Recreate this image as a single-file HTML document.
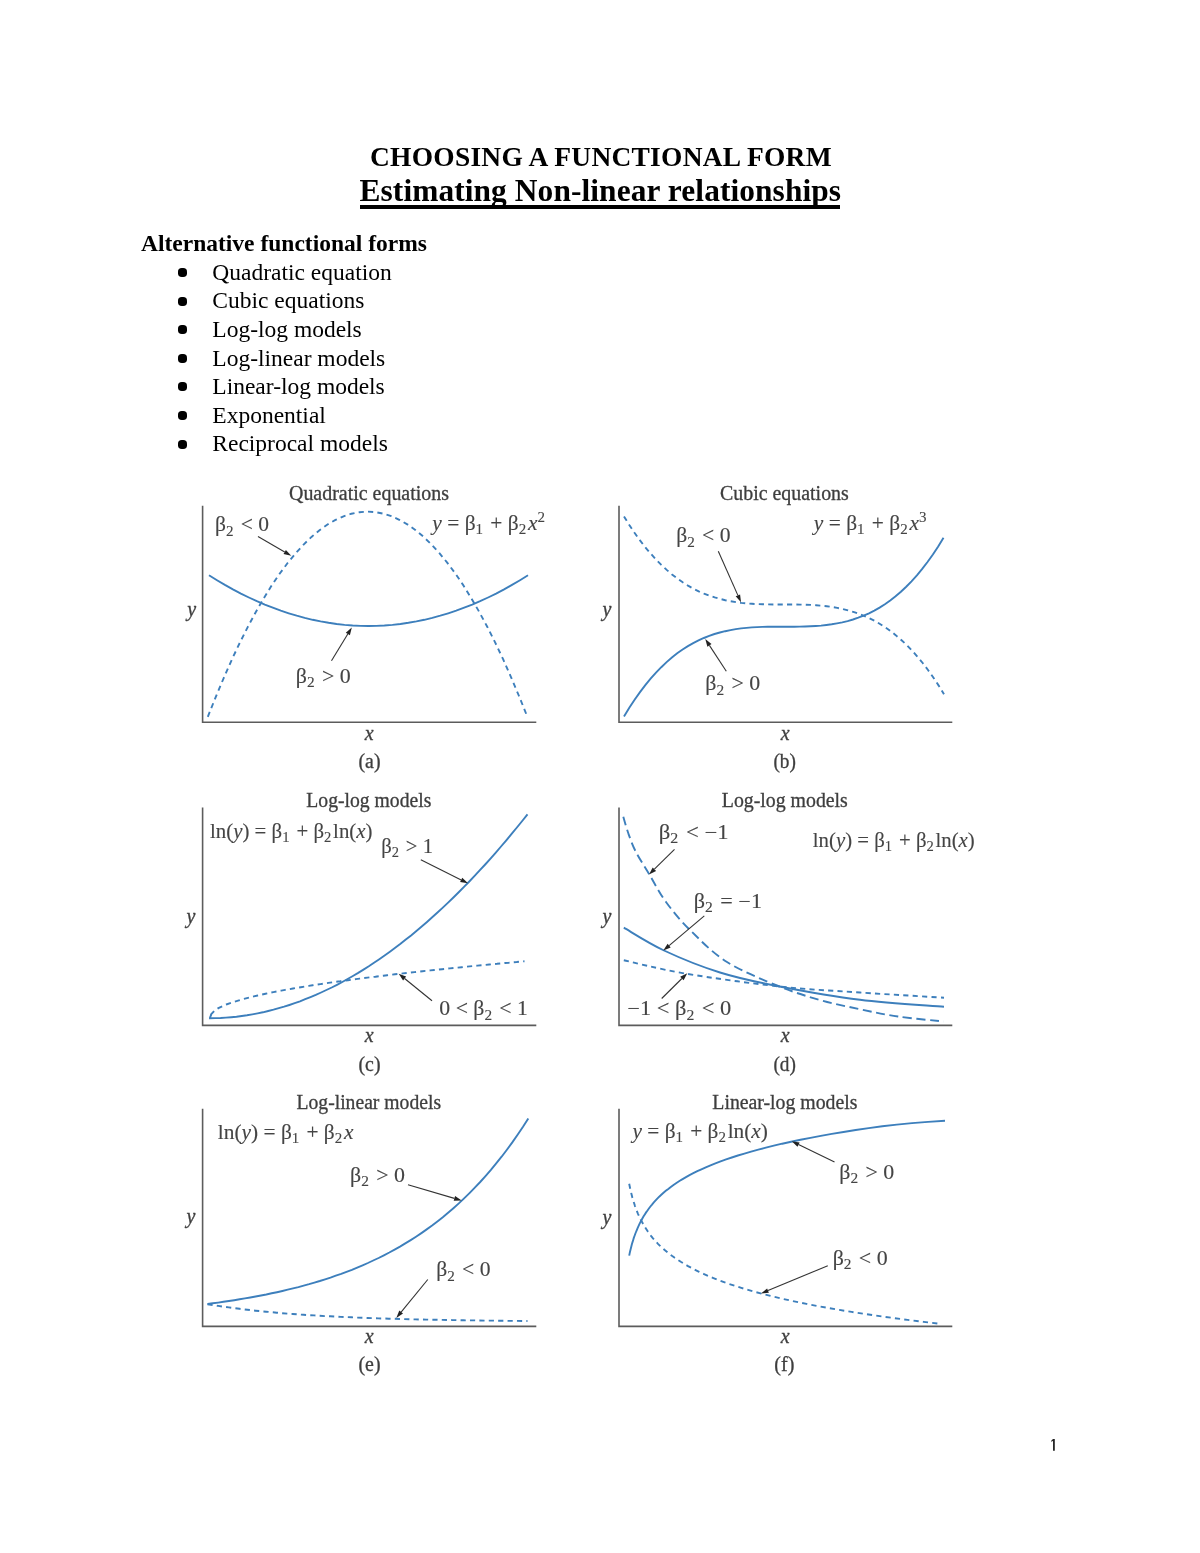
<!DOCTYPE html>
<html lang="en"><head><meta charset="utf-8"><title>Choosing a functional form</title>
<style>
html,body{margin:0;padding:0;background:#fff}
body{width:1200px;height:1553px;position:relative;overflow:hidden;font-family:"Liberation Serif",serif;color:#000}
.l{position:absolute;white-space:nowrap;line-height:1;margin:0}
.h1{font-weight:bold;font-size:27.45px;letter-spacing:.26px}
.h2{font-weight:bold;font-size:31.4px;letter-spacing:.09px}
.h3{font-weight:bold;font-size:23.5px}
.li{font-size:23.5px}
.bu{position:absolute;width:9px;height:9px;border-radius:42%;background:#000}
.ul{position:absolute;background:#000}
.pn{font-family:"Liberation Sans",sans-serif;font-size:20px;color:#222;clip-path:inset(0 4.1px 5.1px 3.4px)}
svg{position:absolute;left:0;top:0;filter:blur(.35px)}
svg text{font-family:"Liberation Serif",serif;font-size:20px;fill:#3d3d3d;stroke:#444;stroke-width:.32px}
svg .m{stroke-width:.12px;fill:#444}
svg .i{font-style:italic}
svg .s{font-size:14px}
</style></head><body>
<div class="l h1" id="h1" style="left:370px;top:143.8px">CHOOSING A FUNCTIONAL FORM</div>
<div class="l h2" id="h2" style="left:359.5px;top:175.0px">Estimating Non-linear relationships</div>
<div class="ul" style="left:360px;top:205px;width:480px;height:4px"></div>
<div class="l h3" id="h3" style="left:141px;top:231.8px">Alternative functional forms</div>
<div class="bu" style="left:177.7px;top:267.9px"></div>
<div class="l li" id="li0" style="left:212.3px;top:260.6px">Quadratic equation</div>
<div class="bu" style="left:177.7px;top:296.5px"></div>
<div class="l li" id="li1" style="left:212.3px;top:289.2px">Cubic equations</div>
<div class="bu" style="left:177.7px;top:325.2px"></div>
<div class="l li" id="li2" style="left:212.3px;top:317.9px">Log-log models</div>
<div class="bu" style="left:177.7px;top:353.8px"></div>
<div class="l li" id="li3" style="left:212.3px;top:346.5px">Log-linear models</div>
<div class="bu" style="left:177.7px;top:382.4px"></div>
<div class="l li" id="li4" style="left:212.3px;top:375.1px">Linear-log models</div>
<div class="bu" style="left:177.7px;top:411.1px"></div>
<div class="l li" id="li5" style="left:212.3px;top:403.8px">Exponential</div>
<div class="bu" style="left:177.7px;top:439.7px"></div>
<div class="l li" id="li6" style="left:212.3px;top:432.4px">Reciprocal models</div>
<div class="l pn" id="pn" style="left:1048px;top:1435.9px">1</div>
<svg width="1200" height="1553" viewBox="0 0 1200 1553">
<text class="t" x="369.0" y="500.3" text-anchor="middle" textLength="160.0" lengthAdjust="spacingAndGlyphs">Quadratic equations</text>
<path d="M202.6 505.8 V722.2 H536.3" fill="none" stroke="#5c5c5c" stroke-width="1.6"/>
<path d="M209.0 575.3 L217.0 580.2 L224.9 584.9 L232.9 589.4 L240.9 593.6 L248.9 597.5 L256.9 601.2 L264.8 604.6 L272.8 607.7 L280.8 610.7 L288.8 613.3 L296.7 615.7 L304.7 617.9 L312.7 619.8 L320.6 621.4 L328.6 622.8 L336.6 624.0 L344.6 624.9 L352.6 625.5 L360.5 625.9 L368.5 626.0 L376.5 625.9 L384.4 625.5 L392.4 624.9 L400.4 624.0 L408.4 622.8 L416.4 621.4 L424.3 619.8 L432.3 617.9 L440.3 615.7 L448.2 613.3 L456.2 610.7 L464.2 607.7 L472.2 604.6 L480.1 601.2 L488.1 597.5 L496.1 593.6 L504.1 589.4 L512.0 584.9 L520.0 580.2 L528.0 575.3" fill="none" stroke="#3d7fbc" stroke-width="1.90"/>
<path d="M207.8 716.8 L215.8 696.8 L223.8 677.8 L231.7 659.9 L239.7 643.0 L247.7 627.1 L255.7 612.2 L263.7 598.4 L271.6 585.6 L279.6 573.8 L287.6 563.0 L295.6 553.3 L303.6 544.6 L311.5 536.9 L319.5 530.2 L327.5 524.5 L335.5 519.9 L343.5 516.3 L351.4 513.7 L359.4 512.2 L367.4 511.6 L375.4 512.1 L383.4 513.7 L391.3 516.2 L399.3 519.8 L407.3 524.3 L415.3 529.9 L423.3 536.6 L431.2 544.2 L439.2 552.9 L447.2 562.6 L455.2 573.3 L463.2 585.1 L471.1 597.9 L479.1 611.7 L487.1 626.5 L495.1 642.3 L503.1 659.2 L511.0 677.1 L519.0 696.0 L527.0 715.9" fill="none" stroke="#3d7fbc" stroke-width="1.90" stroke-dasharray="5.2 4.2"/>
<text class="m" x="215.0" y="531.0" text-anchor="start" textLength="54.0" lengthAdjust="spacingAndGlyphs">β<tspan class="s" dy="4.5">2</tspan><tspan dy="-4.5">&#8202;</tspan> &lt; 0</text>
<text class="m" x="432.3" y="529.5" text-anchor="start" textLength="112.7" lengthAdjust="spacingAndGlyphs"><tspan class="i">y</tspan> = β<tspan class="s" dy="4.5">1</tspan><tspan dy="-4.5">&#8202;</tspan> + β<tspan class="s" dy="4.5">2</tspan><tspan dy="-4.5">&#8202;</tspan><tspan class="i">x</tspan><tspan class="s" dy="-7.5">2</tspan><tspan dy="7.5"></tspan></text>
<text class="m" x="295.8" y="682.5" text-anchor="start" textLength="55.0" lengthAdjust="spacingAndGlyphs">β<tspan class="s" dy="4.5">2</tspan><tspan dy="-4.5">&#8202;</tspan> &gt; 0</text>
<line x1="258.0" y1="536.5" x2="284.7" y2="552.0" stroke="#333" stroke-width="1.1"/><polygon points="291.3,555.8 283.5,554.1 285.9,549.9" fill="#222"/>
<line x1="331.5" y1="660.8" x2="347.8" y2="634.0" stroke="#333" stroke-width="1.1"/><polygon points="351.8,627.5 349.9,635.2 345.8,632.7" fill="#222"/>
<text class="t" x="369.2" y="739.5" text-anchor="middle"><tspan class="i">x</tspan></text>
<text class="t" x="369.5" y="767.7" text-anchor="middle" textLength="22.0" lengthAdjust="spacingAndGlyphs">(a)</text>
<text class="t" x="191.6" y="615.8" text-anchor="middle"><tspan class="i">y</tspan></text>
<text class="t" x="784.4" y="500.4" text-anchor="middle" textLength="128.8" lengthAdjust="spacingAndGlyphs">Cubic equations</text>
<path d="M619.0 505.8 V722.2 H952.3" fill="none" stroke="#5c5c5c" stroke-width="1.6"/>
<path d="M624.0 716.4 L629.3 707.7 L634.6 699.7 L640.0 692.1 L645.3 685.1 L650.6 678.7 L656.0 672.7 L661.3 667.2 L666.6 662.1 L671.9 657.5 L677.2 653.3 L682.6 649.5 L687.9 646.1 L693.2 643.1 L698.5 640.4 L703.9 638.0 L709.2 635.9 L714.5 634.0 L719.9 632.5 L725.2 631.2 L730.5 630.1 L735.8 629.1 L741.1 628.4 L746.5 627.9 L751.8 627.4 L757.1 627.1 L762.5 626.9 L767.8 626.8 L773.1 626.7 L778.4 626.7 L783.8 626.7 L789.1 626.7 L794.4 626.7 L799.7 626.6 L805.0 626.5 L810.4 626.3 L815.7 626.0 L821.0 625.6 L826.4 625.0 L831.7 624.3 L837.0 623.4 L842.3 622.4 L847.6 621.1 L853.0 619.5 L858.3 617.7 L863.6 615.6 L869.0 613.3 L874.3 610.6 L879.6 607.6 L884.9 604.2 L890.2 600.4 L895.6 596.3 L900.9 591.7 L906.2 586.7 L911.5 581.3 L916.9 575.3 L922.2 568.9 L927.5 562.0 L932.9 554.5 L938.2 546.4 L943.5 537.8" fill="none" stroke="#3d7fbc" stroke-width="1.90"/>
<path d="M624.0 516.4 L629.3 525.0 L634.7 533.0 L640.0 540.4 L645.3 547.3 L650.7 553.6 L656.0 559.5 L661.3 564.9 L666.7 569.9 L672.0 574.4 L677.3 578.5 L682.7 582.3 L688.0 585.6 L693.3 588.6 L698.7 591.3 L704.0 593.6 L709.3 595.6 L714.7 597.4 L720.0 598.9 L725.3 600.2 L730.7 601.3 L736.0 602.2 L741.3 602.9 L746.7 603.4 L752.0 603.8 L757.3 604.1 L762.7 604.3 L768.0 604.4 L773.3 604.5 L778.7 604.5 L784.0 604.5 L789.3 604.5 L794.7 604.5 L800.0 604.6 L805.3 604.7 L810.7 604.9 L816.0 605.2 L821.3 605.7 L826.7 606.2 L832.0 607.0 L837.3 607.9 L842.7 609.0 L848.0 610.3 L853.3 611.9 L858.7 613.7 L864.0 615.8 L869.3 618.2 L874.7 620.9 L880.0 624.0 L885.3 627.4 L890.7 631.2 L896.0 635.4 L901.3 640.0 L906.7 645.0 L912.0 650.5 L917.3 656.5 L922.7 663.0 L928.0 670.0 L933.3 677.5 L938.7 685.6 L944.0 694.2" fill="none" stroke="#3d7fbc" stroke-width="1.90" stroke-dasharray="5.2 4.2"/>
<text class="m" x="676.3" y="542.0" text-anchor="start" textLength="54.2" lengthAdjust="spacingAndGlyphs">β<tspan class="s" dy="4.5">2</tspan><tspan dy="-4.5">&#8202;</tspan> &lt; 0</text>
<text class="m" x="813.8" y="529.5" text-anchor="start" textLength="112.7" lengthAdjust="spacingAndGlyphs"><tspan class="i">y</tspan> = β<tspan class="s" dy="4.5">1</tspan><tspan dy="-4.5">&#8202;</tspan> + β<tspan class="s" dy="4.5">2</tspan><tspan dy="-4.5">&#8202;</tspan><tspan class="i">x</tspan><tspan class="s" dy="-7.5">3</tspan><tspan dy="7.5"></tspan></text>
<text class="m" x="705.3" y="690.0" text-anchor="start" textLength="55.0" lengthAdjust="spacingAndGlyphs">β<tspan class="s" dy="4.5">2</tspan><tspan dy="-4.5">&#8202;</tspan> &gt; 0</text>
<line x1="718.3" y1="551.2" x2="737.9" y2="595.4" stroke="#333" stroke-width="1.1"/><polygon points="741.0,602.3 735.7,596.3 740.1,594.4" fill="#222"/>
<line x1="726.3" y1="671.3" x2="709.4" y2="645.4" stroke="#333" stroke-width="1.1"/><polygon points="705.3,639.0 711.5,644.1 707.4,646.7" fill="#222"/>
<text class="t" x="785.2" y="739.5" text-anchor="middle"><tspan class="i">x</tspan></text>
<text class="t" x="784.7" y="767.7" text-anchor="middle" textLength="22.5" lengthAdjust="spacingAndGlyphs">(b)</text>
<text class="t" x="607.0" y="615.8" text-anchor="middle"><tspan class="i">y</tspan></text>
<text class="t" x="368.8" y="807.3" text-anchor="middle" textLength="125.0" lengthAdjust="spacingAndGlyphs">Log-log models</text>
<path d="M202.6 807.5 V1025.4 H536.3" fill="none" stroke="#5c5c5c" stroke-width="1.6"/>
<path d="M211.2 1014.6 L210 1017.6 L210.0 1018.2 L215.3 1018.1 L220.6 1018.0 L225.9 1017.6 L231.2 1017.2 L236.5 1016.7 L241.8 1016.0 L247.0 1015.3 L252.3 1014.4 L257.6 1013.4 L262.9 1012.3 L268.2 1011.0 L273.5 1009.7 L278.8 1008.2 L284.1 1006.7 L289.4 1005.0 L294.7 1003.2 L300.0 1001.3 L305.2 999.2 L310.5 997.1 L315.8 994.9 L321.1 992.5 L326.4 990.0 L331.7 987.5 L337.0 984.8 L342.3 982.0 L347.6 979.0 L352.9 976.0 L358.2 972.9 L363.5 969.6 L368.8 966.3 L374.0 962.8 L379.3 959.2 L384.6 955.5 L389.9 951.7 L395.2 947.8 L400.5 943.8 L405.8 939.6 L411.1 935.4 L416.4 931.0 L421.7 926.6 L427.0 922.0 L432.2 917.3 L437.5 912.5 L442.8 907.6 L448.1 902.6 L453.4 897.5 L458.7 892.3 L464.0 886.9 L469.3 881.5 L474.6 875.9 L479.9 870.2 L485.2 864.5 L490.5 858.6 L495.8 852.6 L501.0 846.5 L506.3 840.3 L511.6 833.9 L516.9 827.5 L522.2 821.0 L527.5 814.3" fill="none" stroke="#3d7fbc" stroke-width="1.90"/>
<path d="M210.6 1014.9 L214.5 1010.6 L218.4 1008.1 L222.4 1006.2 L226.3 1004.5 L230.2 1003.1 L234.1 1001.8 L238.1 1000.6 L242.0 999.4 L245.9 998.4 L249.8 997.4 L253.8 996.4 L257.7 995.5 L261.6 994.6 L265.5 993.8 L269.5 992.9 L273.4 992.1 L277.3 991.4 L281.2 990.6 L285.2 989.9 L289.1 989.2 L293.0 988.5 L296.9 987.8 L300.8 987.2 L304.8 986.5 L308.7 985.9 L312.6 985.3 L316.5 984.7 L320.5 984.1 L324.4 983.5 L328.3 982.9 L332.2 982.4 L336.2 981.8 L340.1 981.3 L344.0 980.7 L347.9 980.2 L351.9 979.7 L355.8 979.1 L359.7 978.6 L363.6 978.1 L367.5 977.6 L371.5 977.1 L375.4 976.7 L379.3 976.2 L383.2 975.7 L387.2 975.2 L391.1 974.8 L395.0 974.3 L398.9 973.9 L402.9 973.4 L406.8 973.0 L410.7 972.5 L414.6 972.1 L418.6 971.7 L422.5 971.2 L426.4 970.8 L430.3 970.4 L434.3 970.0 L438.2 969.6 L442.1 969.2 L446.0 968.8 L449.9 968.4 L453.9 968.0 L457.8 967.6 L461.7 967.2 L465.6 966.8 L469.6 966.4 L473.5 966.0 L477.4 965.6 L481.3 965.2 L485.3 964.9 L489.2 964.5 L493.1 964.1 L497.0 963.8 L501.0 963.4 L504.9 963.0 L508.8 962.7 L512.7 962.3 L516.7 962.0 L520.6 961.6 L524.5 961.3" fill="none" stroke="#3d7fbc" stroke-width="1.90" stroke-dasharray="5.2 4.2"/>
<text class="m" x="210.0" y="837.8" text-anchor="start" textLength="162.5" lengthAdjust="spacingAndGlyphs">ln(<tspan class="i">y</tspan>) = β<tspan class="s" dy="4.5">1</tspan><tspan dy="-4.5">&#8202;</tspan> + β<tspan class="s" dy="4.5">2</tspan><tspan dy="-4.5">&#8202;</tspan>ln(<tspan class="i">x</tspan>)</text>
<text class="m" x="381.2" y="852.5" text-anchor="start" textLength="51.8" lengthAdjust="spacingAndGlyphs">β<tspan class="s" dy="4.5">2</tspan><tspan dy="-4.5">&#8202;</tspan> &gt; 1</text>
<text class="m" x="439.3" y="1015.1" text-anchor="start" textLength="88.7" lengthAdjust="spacingAndGlyphs">0 &lt; β<tspan class="s" dy="4.5">2</tspan><tspan dy="-4.5">&#8202;</tspan> &lt; 1</text>
<line x1="420.8" y1="859.8" x2="461.2" y2="879.9" stroke="#333" stroke-width="1.1"/><polygon points="468.0,883.3 460.1,882.1 462.3,877.8" fill="#222"/>
<line x1="432.0" y1="1000.8" x2="404.6" y2="978.5" stroke="#333" stroke-width="1.1"/><polygon points="398.7,973.7 406.1,976.6 403.1,980.4" fill="#222"/>
<text class="t" x="369.2" y="1041.8" text-anchor="middle"><tspan class="i">x</tspan></text>
<text class="t" x="369.5" y="1070.8" text-anchor="middle" textLength="22.0" lengthAdjust="spacingAndGlyphs">(c)</text>
<text class="t" x="191.0" y="922.8" text-anchor="middle"><tspan class="i">y</tspan></text>
<text class="t" x="784.8" y="807.3" text-anchor="middle" textLength="126.0" lengthAdjust="spacingAndGlyphs">Log-log models</text>
<path d="M619.0 807.5 V1025.4 H952.3" fill="none" stroke="#5c5c5c" stroke-width="1.6"/>
<path d="M623.3 816.7 C624.1 819.5 626.2 827.5 628.3 833.3 C630.4 839.1 632.3 844.9 635.8 851.7 C639.3 858.5 644.2 865.9 649.2 874.2 C654.2 882.5 659.0 892.4 665.8 901.7 C672.6 911.0 679.8 920.0 690.0 930.0 C700.2 940.0 712.1 952.6 727.0 962.0 C741.9 971.4 764.0 980.2 779.5 986.5 C795.0 992.8 806.6 996.2 820.0 1000.0 C833.4 1003.8 847.0 1006.5 860.0 1009.2 C873.0 1012.0 884.1 1014.5 898.0 1016.5 C911.9 1018.5 935.9 1020.7 943.5 1021.5" fill="none" stroke="#3d7fbc" stroke-width="1.90" stroke-dasharray="9 4.6"/>
<path d="M623.8 927.7 C630.5 931.5 648.0 943.0 664.0 950.5 C680.0 958.0 700.8 966.5 720.0 972.5 C739.2 978.5 756.2 982.0 779.5 986.5 C802.8 991.0 832.6 996.4 860.0 999.8 C887.4 1003.2 930.0 1005.6 944.0 1006.8" fill="none" stroke="#3d7fbc" stroke-width="1.90"/>
<path d="M623.8 960.3 C634.0 962.5 659.0 969.1 685.0 973.5 C711.0 977.9 750.3 983.3 779.5 986.5 C808.7 989.7 832.6 990.6 860.0 992.5 C887.4 994.4 930.0 996.8 944.0 997.7" fill="none" stroke="#3d7fbc" stroke-width="1.90" stroke-dasharray="5.2 4.2"/>
<text class="m" x="812.8" y="846.5" text-anchor="start" textLength="162.0" lengthAdjust="spacingAndGlyphs">ln(<tspan class="i">y</tspan>) = β<tspan class="s" dy="4.5">1</tspan><tspan dy="-4.5">&#8202;</tspan> + β<tspan class="s" dy="4.5">2</tspan><tspan dy="-4.5">&#8202;</tspan>ln(<tspan class="i">x</tspan>)</text>
<text class="m" x="658.8" y="838.6" text-anchor="start" textLength="69.8" lengthAdjust="spacingAndGlyphs">β<tspan class="s" dy="4.5">2</tspan><tspan dy="-4.5">&#8202;</tspan> &lt; −1</text>
<text class="m" x="693.8" y="907.8" text-anchor="start" textLength="68.2" lengthAdjust="spacingAndGlyphs">β<tspan class="s" dy="4.5">2</tspan><tspan dy="-4.5">&#8202;</tspan> = −1</text>
<text class="m" x="627.3" y="1015.0" text-anchor="start" textLength="104.0" lengthAdjust="spacingAndGlyphs">−1 &lt; β<tspan class="s" dy="4.5">2</tspan><tspan dy="-4.5">&#8202;</tspan> &lt; 0</text>
<line x1="674.5" y1="849.3" x2="654.4" y2="869.2" stroke="#333" stroke-width="1.1"/><polygon points="649.0,874.5 652.7,867.5 656.1,870.9" fill="#222"/>
<line x1="704.3" y1="915.8" x2="669.1" y2="945.6" stroke="#333" stroke-width="1.1"/><polygon points="663.3,950.5 667.6,943.8 670.7,947.4" fill="#222"/>
<line x1="661.7" y1="998.5" x2="681.9" y2="978.5" stroke="#333" stroke-width="1.1"/><polygon points="687.3,973.2 683.6,980.2 680.2,976.8" fill="#222"/>
<text class="t" x="785.2" y="1041.8" text-anchor="middle"><tspan class="i">x</tspan></text>
<text class="t" x="784.7" y="1070.7" text-anchor="middle" textLength="22.5" lengthAdjust="spacingAndGlyphs">(d)</text>
<text class="t" x="607.0" y="922.7" text-anchor="middle"><tspan class="i">y</tspan></text>
<text class="t" x="368.8" y="1108.5" text-anchor="middle" textLength="144.5" lengthAdjust="spacingAndGlyphs">Log-linear models</text>
<path d="M202.6 1108.8 V1326.4 H536.3" fill="none" stroke="#5c5c5c" stroke-width="1.6"/>
<path d="M207.5 1304.0 L212.8 1303.3 L218.2 1302.6 L223.5 1301.8 L228.9 1301.0 L234.2 1300.2 L239.6 1299.3 L244.9 1298.4 L250.3 1297.5 L255.6 1296.5 L261.0 1295.5 L266.3 1294.5 L271.7 1293.3 L277.0 1292.2 L282.4 1291.0 L287.7 1289.7 L293.0 1288.4 L298.4 1287.1 L303.7 1285.6 L309.1 1284.2 L314.4 1282.6 L319.8 1281.0 L325.1 1279.3 L330.5 1277.6 L335.8 1275.7 L341.2 1273.8 L346.5 1271.8 L351.9 1269.8 L357.2 1267.6 L362.6 1265.3 L367.9 1263.0 L373.2 1260.5 L378.6 1258.0 L383.9 1255.3 L389.3 1252.5 L394.6 1249.6 L400.0 1246.6 L405.3 1243.4 L410.7 1240.1 L416.0 1236.7 L421.4 1233.1 L426.7 1229.4 L432.1 1225.5 L437.4 1221.4 L442.8 1217.2 L448.1 1212.8 L453.4 1208.2 L458.8 1203.4 L464.1 1198.4 L469.5 1193.1 L474.8 1187.7 L480.2 1182.0 L485.5 1176.1 L490.9 1169.9 L496.2 1163.4 L501.6 1156.7 L506.9 1149.7 L512.3 1142.4 L517.6 1134.8 L523.0 1126.8 L528.3 1118.5" fill="none" stroke="#3d7fbc" stroke-width="1.90"/>
<path d="M207.5 1304.2 L212.8 1305.1 L218.2 1305.9 L223.5 1306.7 L228.8 1307.4 L234.2 1308.1 L239.5 1308.8 L244.8 1309.5 L250.2 1310.1 L255.5 1310.7 L260.8 1311.2 L266.2 1311.7 L271.5 1312.2 L276.8 1312.7 L282.2 1313.2 L287.5 1313.6 L292.8 1314.0 L298.2 1314.4 L303.5 1314.8 L308.8 1315.1 L314.2 1315.4 L319.5 1315.8 L324.8 1316.1 L330.2 1316.3 L335.5 1316.6 L340.8 1316.9 L346.2 1317.1 L351.5 1317.3 L356.8 1317.6 L362.2 1317.8 L367.5 1318.0 L372.8 1318.2 L378.2 1318.4 L383.5 1318.5 L388.8 1318.7 L394.2 1318.8 L399.5 1319.0 L404.8 1319.1 L410.2 1319.3 L415.5 1319.4 L420.8 1319.5 L426.2 1319.6 L431.5 1319.7 L436.8 1319.8 L442.2 1319.9 L447.5 1320.0 L452.8 1320.1 L458.2 1320.2 L463.5 1320.3 L468.8 1320.4 L474.2 1320.4 L479.5 1320.5 L484.8 1320.6 L490.2 1320.6 L495.5 1320.7 L500.8 1320.8 L506.2 1320.8 L511.5 1320.9 L516.8 1320.9 L522.2 1321.0 L527.5 1321.0" fill="none" stroke="#3d7fbc" stroke-width="1.90" stroke-dasharray="5.2 4.2"/>
<text class="m" x="217.8" y="1138.6" text-anchor="start" textLength="135.7" lengthAdjust="spacingAndGlyphs">ln(<tspan class="i">y</tspan>) = β<tspan class="s" dy="4.5">1</tspan><tspan dy="-4.5">&#8202;</tspan> + β<tspan class="s" dy="4.5">2</tspan><tspan dy="-4.5">&#8202;</tspan><tspan class="i">x</tspan></text>
<text class="m" x="350.0" y="1181.5" text-anchor="start" textLength="55.0" lengthAdjust="spacingAndGlyphs">β<tspan class="s" dy="4.5">2</tspan><tspan dy="-4.5">&#8202;</tspan> &gt; 0</text>
<text class="m" x="436.3" y="1276.4" text-anchor="start" textLength="54.2" lengthAdjust="spacingAndGlyphs">β<tspan class="s" dy="4.5">2</tspan><tspan dy="-4.5">&#8202;</tspan> &lt; 0</text>
<line x1="408.0" y1="1184.8" x2="454.4" y2="1198.4" stroke="#333" stroke-width="1.1"/><polygon points="461.7,1200.5 453.7,1200.7 455.1,1196.1" fill="#222"/>
<line x1="427.8" y1="1279.5" x2="401.1" y2="1312.1" stroke="#333" stroke-width="1.1"/><polygon points="396.3,1318.0 399.3,1310.6 403.0,1313.6" fill="#222"/>
<text class="t" x="369.2" y="1342.5" text-anchor="middle"><tspan class="i">x</tspan></text>
<text class="t" x="369.5" y="1371.4" text-anchor="middle" textLength="22.0" lengthAdjust="spacingAndGlyphs">(e)</text>
<text class="t" x="191.0" y="1223.3" text-anchor="middle"><tspan class="i">y</tspan></text>
<text class="t" x="784.9" y="1108.5" text-anchor="middle" textLength="145.2" lengthAdjust="spacingAndGlyphs">Linear-log models</text>
<path d="M619.0 1108.8 V1326.4 H952.3" fill="none" stroke="#5c5c5c" stroke-width="1.6"/>
<path d="M629.2 1255.6 L629.6 1253.6 L630.0 1251.7 L630.5 1249.7 L631.0 1247.7 L631.5 1245.8 L632.0 1243.8 L632.6 1241.9 L633.2 1239.9 L633.8 1237.9 L634.5 1236.0 L635.2 1234.0 L636.0 1232.0 L636.8 1230.1 L637.6 1228.1 L638.5 1226.2 L639.4 1224.2 L640.4 1222.2 L641.4 1220.3 L642.5 1218.3 L643.6 1216.3 L644.8 1214.4 L646.1 1212.4 L647.5 1210.5 L648.9 1208.5 L650.4 1206.5 L652.0 1204.6 L653.6 1202.6 L655.4 1200.7 L657.3 1198.7 L659.2 1196.7 L661.3 1194.8 L663.5 1192.8 L665.8 1190.8 L668.3 1188.9 L670.8 1186.9 L673.5 1185.0 L676.4 1183.0 L679.4 1181.0 L682.6 1179.1 L686.0 1177.1 L689.5 1175.1 L693.3 1173.2 L697.3 1171.2 L701.4 1169.3 L705.8 1167.3 L710.5 1165.3 L715.4 1163.4 L720.6 1161.4 L726.1 1159.4 L731.8 1157.5 L737.9 1155.5 L744.4 1153.6 L751.1 1151.6 L758.3 1149.6 L765.9 1147.7 L773.8 1145.7 L782.2 1143.7 L791.1 1141.8 L800.5 1139.8 L810.4 1137.9 L820.8 1135.9 L831.8 1133.9 L843.5 1132.0 L855.7 1130.0 L868.7 1128.1 L882.3 1126.3 L896.8 1124.6 L912.0 1123.1 L928.1 1121.9 L945.0 1120.8" fill="none" stroke="#3d7fbc" stroke-width="1.90"/>
<path d="M629.2 1183.7 L629.6 1185.7 L630.0 1187.7 L630.4 1189.7 L630.9 1191.7 L631.4 1193.7 L631.9 1195.7 L632.4 1197.7 L633.0 1199.7 L633.6 1201.7 L634.3 1203.8 L634.9 1205.8 L635.6 1207.8 L636.4 1209.8 L637.2 1211.8 L638.0 1213.8 L638.9 1215.8 L639.8 1217.8 L640.8 1219.8 L641.9 1221.8 L643.0 1223.8 L644.1 1225.8 L645.4 1227.8 L646.7 1229.8 L648.0 1231.8 L649.5 1233.8 L651.0 1235.8 L652.6 1237.8 L654.3 1239.8 L656.1 1241.8 L658.0 1243.8 L660.0 1245.8 L662.2 1247.8 L664.4 1249.8 L666.8 1251.8 L669.3 1253.8 L671.9 1255.8 L674.7 1257.8 L677.7 1259.8 L680.8 1261.8 L684.1 1263.8 L687.5 1265.8 L691.2 1267.8 L695.1 1269.8 L699.1 1271.8 L703.5 1273.8 L708.0 1275.9 L712.8 1277.9 L717.9 1279.9 L723.3 1281.9 L729.0 1283.9 L735.0 1285.9 L741.3 1287.9 L748.0 1289.9 L755.0 1291.9 L762.5 1293.9 L770.4 1295.9 L778.7 1297.9 L787.5 1299.9 L796.7 1301.9 L806.5 1303.9 L816.9 1305.9 L827.8 1307.9 L839.4 1309.9 L851.6 1311.9 L864.4 1313.9 L878.0 1315.9 L892.4 1317.9 L907.6 1319.9 L923.6 1321.9 L940.5 1323.9" fill="none" stroke="#3d7fbc" stroke-width="1.90" stroke-dasharray="5.2 4.2"/>
<text class="m" x="632.5" y="1137.8" text-anchor="start" textLength="135.5" lengthAdjust="spacingAndGlyphs"><tspan class="i">y</tspan> = β<tspan class="s" dy="4.5">1</tspan><tspan dy="-4.5">&#8202;</tspan> + β<tspan class="s" dy="4.5">2</tspan><tspan dy="-4.5">&#8202;</tspan>ln(<tspan class="i">x</tspan>)</text>
<text class="m" x="839.3" y="1178.8" text-anchor="start" textLength="55.0" lengthAdjust="spacingAndGlyphs">β<tspan class="s" dy="4.5">2</tspan><tspan dy="-4.5">&#8202;</tspan> &gt; 0</text>
<text class="m" x="832.7" y="1264.9" text-anchor="start" textLength="55.0" lengthAdjust="spacingAndGlyphs">β<tspan class="s" dy="4.5">2</tspan><tspan dy="-4.5">&#8202;</tspan> &lt; 0</text>
<line x1="834.5" y1="1162.0" x2="798.5" y2="1144.5" stroke="#333" stroke-width="1.1"/><polygon points="791.7,1141.2 799.6,1142.4 797.5,1146.7" fill="#222"/>
<line x1="827.8" y1="1265.7" x2="768.0" y2="1290.6" stroke="#333" stroke-width="1.1"/><polygon points="761.0,1293.5 767.1,1288.4 768.9,1292.8" fill="#222"/>
<text class="t" x="785.2" y="1342.5" text-anchor="middle"><tspan class="i">x</tspan></text>
<text class="t" x="784.3" y="1371.4" text-anchor="middle" textLength="20.0" lengthAdjust="spacingAndGlyphs">(f)</text>
<text class="t" x="607.0" y="1224.3" text-anchor="middle"><tspan class="i">y</tspan></text>
</svg></body></html>
